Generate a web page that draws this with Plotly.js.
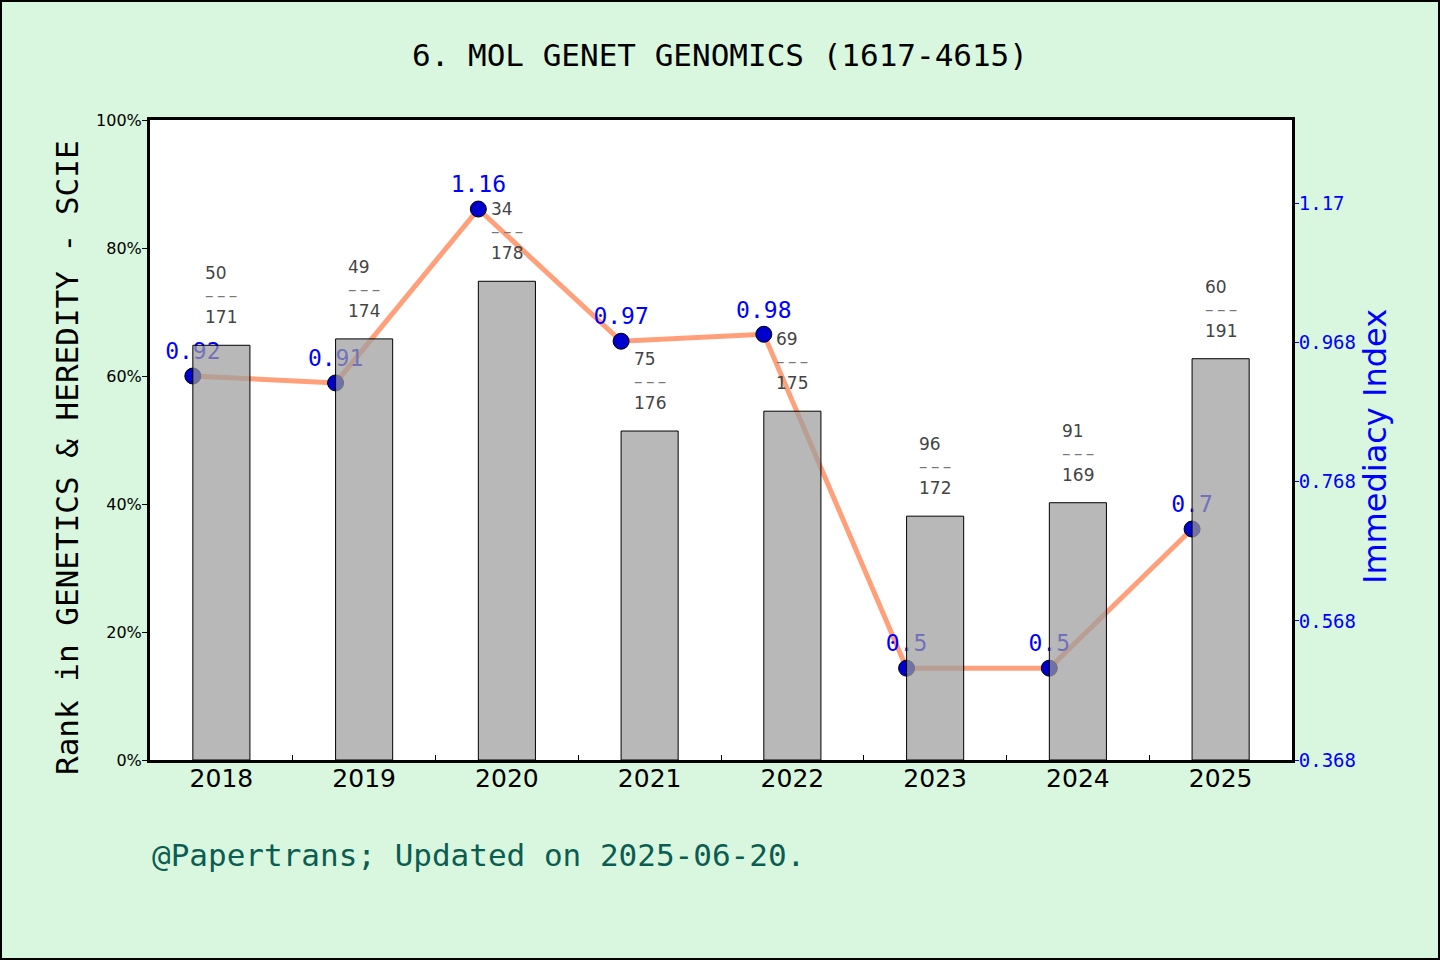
<!DOCTYPE html>
<html>
<head>
<meta charset="utf-8">
<script src="https://cdn.plot.ly/plotly-3.0.1.min.js"></script>
<style>
  html, body { margin: 0; padding: 0; background: #d9f7de; }
  #wrap { position: relative; width: 1440px; height: 960px; }
  #chart { width: 1440px; height: 960px; }
  #frame { position: absolute; left: 0; top: 0; width: 1440px; height: 960px; box-sizing: border-box; border: 2px solid #000; pointer-events: none; }
</style>
</head>
<body>
<div id="wrap"><div id="chart"></div><div id="frame"></div></div>
<script>
// ---- data ----
const years = ['2018', '2019', '2020', '2021', '2022', '2023', '2024', '2025'];
const rankShare = [0.648, 0.658, 0.748, 0.514, 0.545, 0.381, 0.402, 0.627];
const rankPosition = [50, 49, 34, 75, 69, 96, 91, 60];
const rankTotal = [171, 174, 178, 176, 175, 172, 169, 191];
const immediacy = [0.92, 0.91, 1.16, 0.97, 0.98, 0.5, 0.5, 0.7];
const rightTickVals = [0.368, 0.568, 0.768, 0.968, 1.168];
const rightTickText = ['0.368', '0.568', '0.768', '0.968', '1.17'];

const idx = years.map((_, i) => i);
const mono = 'DejaVu Sans Mono, monospace';
const sans = 'DejaVu Sans, sans-serif';

const lineTrace = {
  type: 'scatter',
  mode: 'lines+markers+text',
  x: idx.map(i => i - 0.2),
  y: immediacy,
  yaxis: 'y',
  text: immediacy.map(v => String(v)),
  textposition: 'top center',
  textfont: { family: mono, size: 23, color: '#0000ff' },
  line: { color: '#ffa07a', width: 5 },
  marker: { color: '#0000cd', size: 16, line: { color: '#000', width: 1 } },
  cliponaxis: false,
  hoverinfo: 'skip',
  showlegend: false
};

const barTrace = {
  type: 'bar',
  x: idx,
  y: rankShare,
  yaxis: 'y2',
  width: 0.4,
  marker: { color: 'rgba(156,156,157,0.72)', line: { color: '#000', width: 1 } },
  hoverinfo: 'skip',
  showlegend: false
};

const dashes = '<span style="color:#777">\u2013\u2009\u2013\u2009\u2013</span>';
const annotations = idx.map(i => ({
  x: i, y: rankShare[i], xref: 'x', yref: 'y2',
  text: rankPosition[i] + '<br>' + dashes + '<br>' + rankTotal[i],
  showarrow: false, align: 'left', xanchor: 'center', yanchor: 'bottom', yshift: 16,
  font: { family: sans, size: 17, color: '#444' }
}));
annotations.push({
  x: 0, y: -0.148, xref: 'paper', yref: 'paper',
  text: '@Papertrans; Updated on 2025-06-20.',
  showarrow: false, xanchor: 'left', yanchor: 'middle',
  font: { family: mono, size: 31, color: '#0b5d51' }
});
annotations.push({
  x: -83 / 1142, y: (760 - 458) / 640, xref: 'paper', yref: 'paper',
  text: 'Rank in GENETICS &amp; HEREDITY - SCIE', textangle: -90,
  showarrow: false, xanchor: 'center', yanchor: 'middle',
  font: { family: mono, size: 31, color: '#000' }
});
annotations.push({
  x: 1 + 83 / 1142, y: (760 - 447) / 640, xref: 'paper', yref: 'paper',
  text: 'Immediacy Index', textangle: -90,
  showarrow: false, xanchor: 'center', yanchor: 'middle',
  font: { family: sans, size: 32, color: '#0000ff' }
});

const layout = {
  width: 1440, height: 960,
  paper_bgcolor: '#d9f7de',
  plot_bgcolor: '#ffffff',
  margin: { l: 150, r: 148, t: 120, b: 200, autoexpand: false },
  title: {
    text: '6. MOL GENET GENOMICS (1617-4615)',
    x: 0.5, xref: 'container', xanchor: 'center',
    y: 1 - 55 / 960, yref: 'container', yanchor: 'middle',
    font: { family: mono, size: 31, color: '#000' }
  },
  xaxis: {
    range: [-0.5, 7.5],
    tickmode: 'array', tickvals: idx, ticktext: years,
    ticks: '', showgrid: false, zeroline: false,
    ticklabelstandoff: -6,
    tickfont: { family: sans, size: 25, color: '#000' },
    showline: true, linecolor: '#000', linewidth: 3, mirror: true,
    minor: { tickmode: 'array', tickvals: idx.slice(1).map(i => i - 0.5), ticks: 'inside', ticklen: 5, tickcolor: '#000', tickwidth: 1, showgrid: false }
  },
  yaxis: {
    side: 'right',
    range: [0.368, 1.288],
    tickmode: 'array', tickvals: rightTickVals, ticktext: rightTickText,
    ticks: 'outside', ticklen: 4, tickcolor: '#0000ff', tickwidth: 1,
    ticklabelstandoff: -4,
    tickfont: { family: mono, size: 19, color: '#0000ff' },
    showgrid: false, zeroline: false,
    showline: true, linecolor: '#000', linewidth: 3
  },
  yaxis2: {
    overlaying: 'y', side: 'left',
    range: [0, 1],
    tickmode: 'linear', tick0: 0, dtick: 0.2, tickformat: '.0%',
    ticks: 'outside', ticklen: 5, tickcolor: '#000', tickwidth: 1,
    ticklabelstandoff: -3,
    tickfont: { family: sans, size: 16, color: '#000' },
    showgrid: false, zeroline: false,
    showline: true, linecolor: '#000', linewidth: 3
  },
  annotations: annotations
};

Plotly.newPlot('chart', [lineTrace, barTrace], layout, { displayModeBar: false, staticPlot: true });
</script>
</body>
</html>
